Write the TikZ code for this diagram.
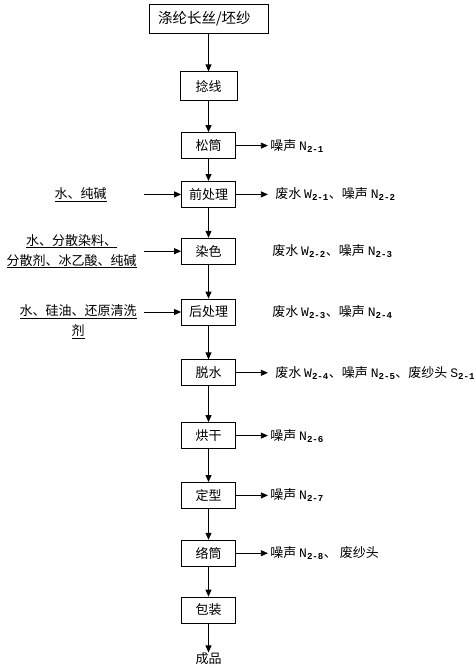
\documentclass[tikz,border=0pt]{standalone}
\usepackage{fontspec}
\setmainfont{Noto Sans CJK SC}
\newfontfamily\latinmono{Liberation Mono}
\usetikzlibrary{positioning, arrows.meta}
\newcommand\pol[2]{{\latinmono #1\textsubscript{\bfseries #2}}}

\begin{document}
\begin{tikzpicture}[x=1pt, y=-1pt,
     node distance = 31pt and 32pt,
     line width = 0.8pt,
     font = \fontsize{13}{20}\selectfont,
     > = {Triangle[length=7pt,width=6pt]},
        box/.style = {rectangle, draw, minimum width=54pt,
                     minimum height=26pt, inner sep=2pt},
      waste/.style = {inner sep=2pt},
       feed/.style = {align=center, inner sep=1pt}
                        ]
\useasboundingbox (0,0) rectangle (474,667);
% main line
\node (yarn) [box, text width=101pt, inner xsep=9pt, align=left,
              minimum height=29pt, font=\fontsize{14.5}{18}\selectfont]
              at (208.5,18.5) {涤纶长丝/坯纱};
\node (twist) [box, minimum width=57pt, minimum height=29pt,
               below=38pt of yarn] {捻线};
\node (loose) [box, below=31pt of twist] {松筒};
\node (pre) [box, below=22pt of loose] {前处理};
\node (dye) [box, below=30pt of pre] {染色};
\node (post) [box, below=34pt of dye] {后处理};
\node (dewater) [box, below=34pt of post] {脱水};
\node (dry) [box, below=36pt of dewater] {烘干};
\node (setting) [box, below=33pt of dry] {定型};
\node (wind) [box, below=31pt of setting] {络筒};
\node (pack) [box, below=30pt of wind] {包装};
\node (product) [inner sep=0pt, below=29pt of pack] {成品};
\draw[->] (yarn) to (twist);
\draw[->] (twist) to (loose);
\draw[->] (loose) to (pre);
\draw[->] (pre) to (dye);
\draw[->] (dye) to (post);
\draw[->] (post) to (dewater);
\draw[->] (dewater) to (dry);
\draw[->] (dry) to (setting);
\draw[->] (setting) to (wind);
\draw[->] (wind) to (pack);
\draw[->] (pack) to (product);
% inputs
\coordinate [left=37pt of pre] (c1);
\coordinate [left=37pt of dye] (c2);
\coordinate [left=37pt of post] (c3);
\node (in1) [feed, left=36pt of c1] {\underline{水、纯碱}};
\node (in2) [feed, left=6pt of c2] {\underline{水、分散染料、}\\\underline{分散剂、冰乙酸、纯碱}};
\node (in3) [feed, left=6pt of c3, yshift=-10pt] {\underline{水、硅油、还原清洗}\\\underline{剂}};
\draw[->] (c1) to (pre);
\draw[->] (c2) to (dye);
\draw[->] (c3) to (post);
% outputs
\node (o1) [waste, right=32pt of loose, anchor=west] {噪声 \pol{N}{2-1}};
\node (o2) [waste, right=32pt of pre, anchor=west] {\hspace{5pt}废水 \pol{W}{2-1}、噪声 \pol{N}{2-2}};
\node (o3) [waste, right=34pt of dye, anchor=west] {废水 \pol{W}{2-2}、噪声 \pol{N}{2-3}};
\node (o4) [waste, right=34pt of post, anchor=west] {废水 \pol{W}{2-3}、噪声 \pol{N}{2-4}};
\node (o5) [waste, right=32pt of dewater, anchor=west] {\hspace{5pt}废水 \pol{W}{2-4}、噪声 \pol{N}{2-5}、废纱头 \pol{S}{2-1}};
\node (o6) [waste, right=32pt of dry, anchor=west] {噪声 \pol{N}{2-6}};
\node (o7) [waste, right=32pt of setting, anchor=west] {噪声 \pol{N}{2-7}};
\node (o8) [waste, right=32pt of wind, anchor=west] {噪声 \pol{N}{2-8}、 废纱头};
\draw[->] (loose) to (o1);
\draw[->] (pre) to (o2);
\draw[->] (dewater) to (o5);
\draw[->] (dry) to (o6);
\draw[->] (setting) to (o7);
\draw[->] (wind) to (o8);
\end{tikzpicture}
\end{document}
